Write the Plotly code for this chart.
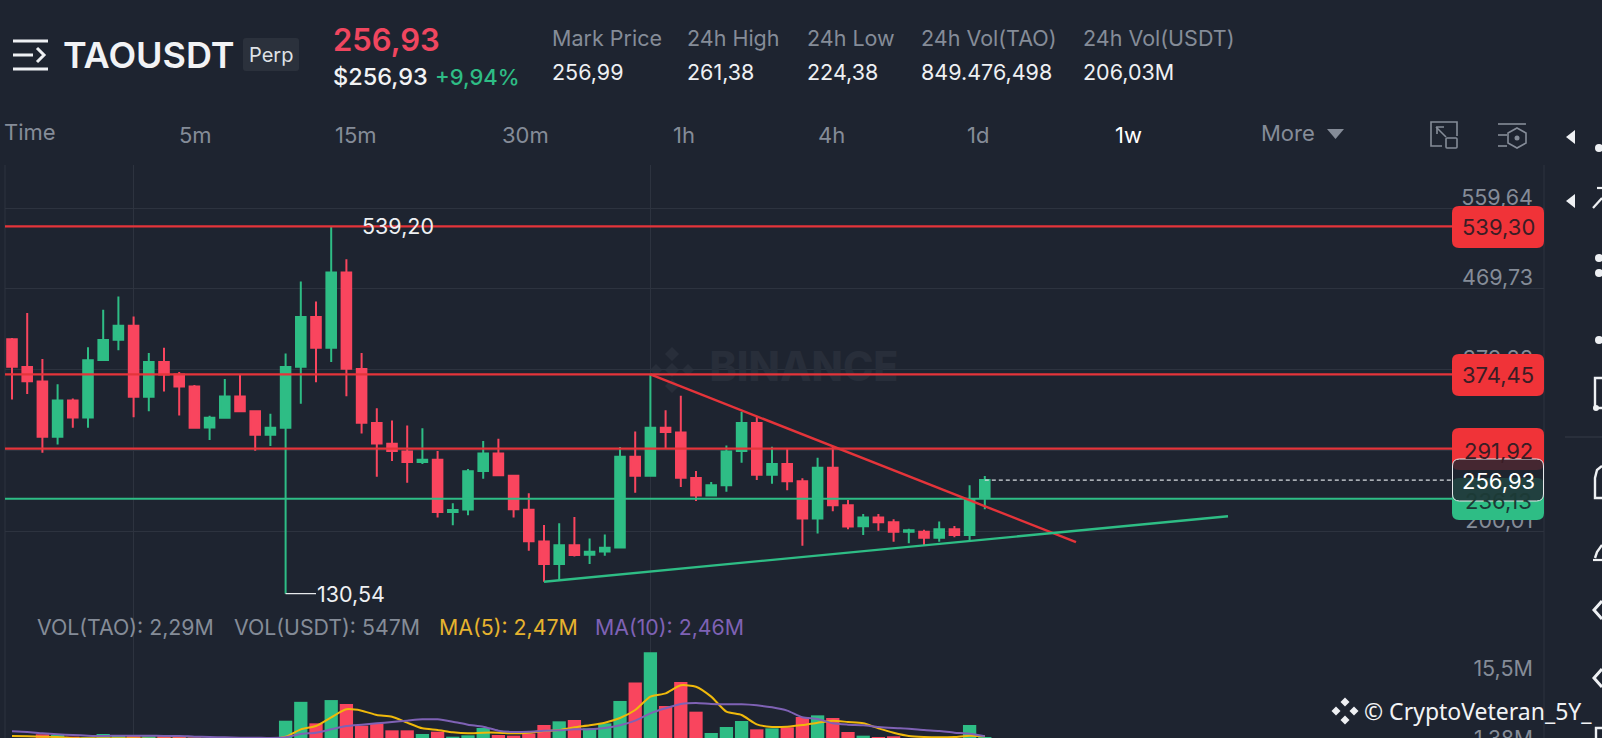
import plotly.graph_objects as go

W, H = 1602, 738

# ---------- DATA ----------
opens = [413.5,382.8,366.5,305.1,345.4,326.5,390.5,413.1,428.7,349.5,388.3,374.3,360.9,315.4,326.2,349.9,333.6,307.3,315.1,383.1,
         438.3,404.2,487.9,380.5,320.3,297.3,288.8,276.9,279.5,221.5,224.1,267.0,286.6,261.8,224.0,188.5,163.4,184.5,173.7,177.4,
         181.9,282.9,261.8,315.1,309.9,259.2,239.6,251.1,289.2,320.3,262.9,274.7,255.5,214.1,270.7,228.8,205.5,215.2,210.0,199.3,
         199.3,192.6,202.2,195.9,237.7]
closes = [383.1,366.9,305.1,345.4,326.5,390.2,412.8,428.7,349.5,388.3,374.3,361.0,315.1,326.2,349.9,333.6,307.3,315.1,382.8,438.3,
          404.2,487.9,380.9,320.6,297.7,289.2,276.9,279.5,221.5,223.7,266.6,286.6,262.2,224.4,188.9,163.4,184.5,173.4,177.1,181.5,
          282.9,261.8,315.1,310.3,259.6,239.6,251.1,288.8,320.3,262.9,274.7,255.5,214.1,270.7,228.8,205.2,215.2,210.0,199.3,201.1,
          192.6,202.2,195.9,235.5,256.93]
highs = [415.0,442.7,391.7,363.5,347.6,404.6,446.4,461.2,439.0,398.3,404.2,377.2,362.8,328.4,369.5,374.3,333.9,330.6,397.6,477.9,
         455.7,539.2,502.7,398.3,336.9,323.2,317.7,314.7,289.2,231.1,269.2,300.3,302.9,262.2,242.2,207.0,208.9,215.9,191.9,196.3,
         293.6,311.0,374.45,334.7,350.6,267.0,254.8,295.5,332.8,327.3,294.0,291.8,258.8,281.8,294.7,234.8,219.2,219.2,213.3,202.6,
         201.5,210.7,205.9,251.1,261.4]
lows = [346.5,352.8,287.3,296.6,315.1,315.1,390.2,401.3,326.9,333.6,355.4,328.8,314.0,301.4,325.1,333.6,289.5,294.7,130.54,341.7,
        365.8,388.3,350.2,308.8,260.7,278.1,254.0,274.7,215.2,206.7,217.8,258.5,261.4,215.2,178.2,143.8,144.9,171.9,163.4,172.6,
        181.1,242.9,261.0,292.5,249.2,233.7,239.6,244.0,276.2,257.0,252.9,245.5,183.7,197.4,222.2,202.2,195.9,200.4,188.2,186.7,
        184.5,188.2,193.3,189.3,224.4]
volumes = [1.9,2.0,2.9,2.74,2.36,2.2,2.97,2.52,2.67,2.44,2.59,2.52,2.2,1.9,1.8,1.8,1.8,1.6,6.0,10.3,
           5.4,10.7,9.8,4.87,5.4,3.81,3.81,2.97,3.5,2.36,2.67,4.34,2.74,2.59,3.12,5.02,5.86,6.16,4.26,5.4,
           10.5,14.7,21.6,9.35,14.8,8.06,3.2,4.57,5.93,4.03,4.26,4.49,6.84,7.22,6.62,3.43,2.59,2.29,2.44,1.6,
           1.6,1.6,1.6,5.02,2.29]
ma5 = [2.52,2.44,2.36,2.29,2.0,2.0,2.0,2.0,2.0,1.9,1.9,1.9,1.9,1.9,1.9,1.9,1.9,1.9,2.36,4.03,
       4.79,6.77,8.59,8.29,7.3,6.92,5.55,4.26,3.88,3.35,3.12,3.27,3.27,3.12,3.27,3.65,3.88,4.49,4.95,5.55,
       6.62,8.44,11.48,12.23,14.06,13.75,11.48,8.06,7.3,5.17,4.57,4.64,5.02,5.55,6.01,5.7,5.4,4.26,3.27,2.52,
       2.29,2.21,2.29,2.59,2.47]
ma10 = [3.58,3.43,3.12,2.9,2.74,2.59,2.52,2.59,2.59,2.59,2.52,2.52,2.36,2.29,2.21,2.14,2.14,2.06,2.21,2.97,
        3.27,4.03,4.79,5.1,5.4,5.7,6.01,6.31,6.31,5.78,5.1,4.64,3.73,3.43,3.5,3.73,3.81,4.03,4.03,4.34,
        4.95,6.01,7.68,8.82,9.8,10.03,9.8,9.73,9.73,9.5,9.05,8.29,6.77,6.39,5.4,5.1,4.95,4.57,4.34,4.19,
        3.88,3.65,3.27,3.05,2.46]

price_ticks = [559.64,469.73,379.82,289.91,200.01,110.10]
price_tick_labels = ["559,64","469,73","379,82","289,91","200,01","110,10"]
vol_ticks = [15.5]
vol_tick_labels = ["15,5M"]

level_red = [539.30,374.45,291.92]
level_red_labels = ["539,30","374,45","291,92"]
level_green = 236.13
level_green_label = "236,13"
last_price = 256.93
last_price_label = "256,93"

red_trend_x = [42,70]
red_trend_y = [374.45,187.8]
green_trend_x = [35,80]
green_trend_y = [143.8,216.6]

low_mark_label = "130,54"
low_mark = 130.54
high_mark_label = "539,20"
high_mark = 539.20

stats_head = ["Mark Price","24h High","24h Low","24h Vol(TAO)","24h Vol(USDT)"]
stats_vals = ["256,99","261,38","224,38","849.476,498","206,03M"]
intervals = ["5m","15m","30m","1h","4h","1d","1w"]

# ---------- STYLE ----------
BG = "#1e2430"
GRID = "#2d333f"
RED = "#f9455e"
GREEN = "#2ebd85"
LINE_RED = "#e5343a"
BOX_RED = "#f03338"
GRAY = "#858c98"
WHITE = "#eef0f3"
WM = "#282e3a"
FONT = "Inter"

X0, X1 = 5, 1544        # plot area pixels
PX0, PXSTEP = 12, 15.2  # candle 0 pixel and candle spacing
Y_TOP, Y_SPLIT = 165, 612
PX_PER_PRICE = 404 / (559.64 - 110.10)

def xi(px):
    return (px - PX0) / PXSTEP
def fx(px):
    return px / W
def fy(py):
    return 1 - py / H

n = len(closes)
idx = list(range(n))
xmin, xmax = xi(X0), xi(X1)
price_range = [110.10, 110.10 + (Y_SPLIT - Y_TOP) / PX_PER_PRICE]
vol_range = [2.06, 30.76]

fig = go.Figure()

# watermark under the candles
fig.add_trace(go.Scatter(x=[xi(804)], y=[110.10 + (Y_SPLIT - 371) / PX_PER_PRICE], mode="text", text=["BINANCE"],
                         textfont=dict(family=FONT, size=41, color=WM, weight=800),
                         textposition="middle center", hoverinfo="skip"))

fig.add_trace(go.Candlestick(x=idx, open=opens, high=highs, low=lows, close=closes,
                             increasing=dict(line=dict(color=GREEN, width=2), fillcolor=GREEN),
                             decreasing=dict(line=dict(color=RED, width=2), fillcolor=RED),
                             whiskerwidth=0, hoverinfo="skip", xaxis="x", yaxis="y"))

for lv in level_red:
    fig.add_trace(go.Scatter(x=[xmin, xi(1452)], y=[lv, lv], mode="lines",
                             line=dict(color=LINE_RED, width=2.2), hoverinfo="skip"))
fig.add_trace(go.Scatter(x=[xmin, xi(1452)], y=[level_green, level_green], mode="lines",
                         line=dict(color=GREEN, width=2.2), hoverinfo="skip"))
fig.add_trace(go.Scatter(x=[n - 1, xi(1452)], y=[last_price, last_price], mode="lines",
                         line=dict(color="#d8dbe0", width=1.2, dash="4px,3px"), hoverinfo="skip"))
fig.add_trace(go.Scatter(x=red_trend_x, y=red_trend_y, mode="lines",
                         line=dict(color=LINE_RED, width=2.4), hoverinfo="skip"))
fig.add_trace(go.Scatter(x=green_trend_x, y=green_trend_y, mode="lines",
                         line=dict(color=GREEN, width=2.4), hoverinfo="skip"))
fig.add_trace(go.Scatter(x=[18, xi(316)], y=[low_mark, low_mark], mode="lines",
                         line=dict(color=WHITE, width=1.2), hoverinfo="skip"))

vol_colors = [GREEN if c >= o else RED for o, c in zip(opens, closes)]
fig.add_trace(go.Bar(x=idx, y=volumes, marker=dict(color=vol_colors, line=dict(width=0)),
                     width=0.875, xaxis="x2", yaxis="y2", hoverinfo="skip"))
fig.add_trace(go.Scatter(x=idx, y=ma5, mode="lines", line=dict(color="#f0b90b", width=2, shape="spline", smoothing=0.6),
                         xaxis="x2", yaxis="y2", hoverinfo="skip"))
fig.add_trace(go.Scatter(x=idx, y=ma10, mode="lines", line=dict(color="#7f62b5", width=2, shape="spline", smoothing=0.6),
                         xaxis="x2", yaxis="y2", hoverinfo="skip"))

# ---------- helpers for chrome ----------
shapes, ann = [], []

def rbox(x0, y0, x1, y1, r, fill, line=None, lw=0):
    p = (f"M {fx(x0+r)} {fy(y0)} L {fx(x1-r)} {fy(y0)} Q {fx(x1)} {fy(y0)} {fx(x1)} {fy(y0+r)} "
         f"L {fx(x1)} {fy(y1-r)} Q {fx(x1)} {fy(y1)} {fx(x1-r)} {fy(y1)} L {fx(x0+r)} {fy(y1)} "
         f"Q {fx(x0)} {fy(y1)} {fx(x0)} {fy(y1-r)} L {fx(x0)} {fy(y0+r)} Q {fx(x0)} {fy(y0)} {fx(x0+r)} {fy(y0)} Z")
    shapes.append(dict(type="path", path=p, xref="paper", yref="paper", fillcolor=fill,
                       line=dict(color=line or fill, width=lw), layer="above"))

def seg(x0, y0, x1, y1, color=WHITE, w=3, layer="above"):
    shapes.append(dict(type="line", x0=fx(x0), y0=fy(y0), x1=fx(x1), y1=fy(y1), xref="paper", yref="paper",
                       line=dict(color=color, width=w), layer=layer))

def poly(pts, color, fill=None, w=1.5, layer="above"):
    p = "M " + " L ".join(f"{fx(a)} {fy(b)}" for a, b in pts) + (" Z" if fill else "")
    shapes.append(dict(type="path", path=p, xref="paper", yref="paper", fillcolor=fill,
                       line=dict(color=color, width=w), layer=layer))

def dot(cx, cy, r, color=WHITE):
    shapes.append(dict(type="circle", x0=fx(cx-r), x1=fx(cx+r), y0=fy(cy-r), y1=fy(cy+r), xref="paper", yref="paper",
                       fillcolor=color, line=dict(width=0), layer="above"))

def txt(px, py, s, size, color, anchor="left", weight=None, family=FONT):
    f = dict(family=family, size=size, color=color)
    if weight:
        f["weight"] = weight
    ann.append(dict(x=fx(px), y=fy(py), xref="paper", yref="paper", text=s, showarrow=False,
                    xanchor=anchor, yanchor="middle", font=f))

# plot frame lines
seg(X0, Y_TOP, X0, H, GRID, 1, "below")
seg(X1, Y_TOP, X1, H, GRID, 1, "below")

# ---------- price boxes ----------
rbox(1452, 206, 1544, 248, 7, BOX_RED)
rbox(1452, 354, 1544, 396, 7, BOX_RED)
rbox(1452, 428, 1544, 470, 7, BOX_RED)
rbox(1452, 478, 1544, 520, 7, GREEN)
rbox(1452.5, 459, 1543.5, 501, 7, "rgba(30,36,48,0.82)", "#e6e8eb", 1)
DARK = "#3a1d25"
for lv_lab, cy in zip(level_red_labels, [227, 375, 451]):
    txt(1498, cy, lv_lab, 22, DARK, "center")
txt(1498, 501, level_green_label, 22, "#1c3a36", "center")
txt(1498, 481, last_price_label, 22, "#ffffff", "center")

# labels on the chart
for label, i, v in [(high_mark_label, xi(360), high_mark), (low_mark_label, xi(315), low_mark)]:
    ann.append(dict(x=i, y=v, xref="x", yref="y", text=label, showarrow=False, xanchor="left", yanchor="middle",
                    font=dict(family=FONT, size=21.5, color=WHITE)))
txt(1535, 738, "1,38M", 21, GRAY, "right")

# volume legend
txt(35, 627, "VOL(TAO): 2,29M", 21.3, GRAY)
txt(232, 627, "VOL(USDT): 547M", 21.3, GRAY)
txt(437, 627, "MA(5): 2,47M", 21.3, "#e6b32e")
txt(593, 627, "MA(10): 2,46M", 21.3, "#7f62b5")

# ---------- header ----------
seg(13, 41, 48, 41)
seg(13, 55, 33, 55)
poly([(37, 48), (44, 55), (37, 62)], WHITE, None, 3)
seg(13, 69, 48, 69)
txt(61, 55, "TAOUSDT", 36, "#f2f3f5", weight=600)
rbox(243, 38, 299, 71, 3, "#2b313c")
txt(271, 55, "Perp", 20, "#dfe2e6", "center")
txt(331, 39, "256,93", 31, "#f0465f", weight=600)
txt(331, 77, "$256,93", 23.5, "#f2f3f5", weight=500)
txt(433, 77, "+9,94%", 22, GREEN, weight=500)
for x, h_, v_ in zip([550, 685, 805, 919, 1081], stats_head, stats_vals):
    txt(x, 38, h_, 21.5, GRAY)
    txt(x, 72, v_, 21.5, "#eef0f3")
txt(2, 132, "Time", 22, GRAY)
for x, s in zip([195, 356, 525, 684, 831, 978, 1128], intervals):
    txt(x, 135, s, 22, "#ffffff" if s == "1w" else GRAY, "center")
txt(1259, 133, "More", 22, GRAY)
poly([(1327, 129), (1344, 129), (1335.5, 139)], GRAY, GRAY, 0)

# toolbar icons
for pts in [[(1442, 146), (1431, 146), (1431, 122), (1457, 122), (1457, 136)],
            [(1436, 127), (1446, 137)], [(1437, 134), (1437, 127), (1444, 127)]]:
    poly(pts, GRAY, None, 1.6)
rbox(1446, 138, 1457, 148, 1, BG, GRAY, 1.6)
seg(1498, 124, 1526, 124, GRAY, 1.6)
seg(1498, 135, 1507, 135, GRAY, 1.6)
seg(1498, 146, 1507, 146, GRAY, 1.6)
poly([(1517, 128), (1526, 133), (1526, 143), (1517, 148), (1508, 143), (1508, 133)], GRAY, BG, 1.6)
dot(1517, 138, 2.5, GRAY)

# right-hand cut-off sidebar
poly([(1575, 130), (1566, 137), (1575, 144)], WHITE, WHITE, 0)
poly([(1575, 194), (1566, 201), (1575, 208)], WHITE, WHITE, 0)
dot(1599, 148, 4); dot(1599, 258, 4); dot(1599, 273, 4); dot(1599, 340, 4)
seg(1593, 208, 1602, 198, WHITE, 2.2)
seg(1597, 188, 1602, 188, WHITE, 2.2)
poly([(1602, 378), (1595, 378), (1595, 408), (1602, 408)], WHITE, None, 2.4)
dot(1596, 408, 3)
seg(1565, 437, 1602, 437, "#343a46", 1.2)
poly([(1602, 466), (1597, 470), (1595, 478), (1595, 498), (1602, 498)], WHITE, None, 2.4)
poly([(1602, 545), (1597, 552), (1595, 558)], WHITE, None, 2.4)
seg(1593, 560, 1602, 560, WHITE, 2.2)
poly([(1602, 601), (1594, 610), (1602, 619)], WHITE, None, 3)
poly([(1602, 669), (1594, 678), (1602, 687)], WHITE, None, 3)
poly([(1602, 728), (1596, 728), (1596, 738)], WHITE, None, 2.4)

# watermark diamonds (BINANCE logo) under the candles
for cx, cy, r in [(672, 370, 7), (672, 354, 7), (672, 386, 7), (656, 370, 6), (688, 370, 6)]:
    poly([(cx, cy - r), (cx + r, cy), (cx, cy + r), (cx - r, cy)], WM, WM, 0, "below")

# author tag
for cx, cy, r in [(1345, 702, 4.5), (1345, 720, 4.5), (1336, 711, 4.5), (1354, 711, 4.5)]:
    poly([(cx, cy - r), (cx + r, cy), (cx, cy + r), (cx - r, cy)], WHITE, WHITE, 0)
txt(1362, 711, "© CryptoVeteran_5Y_", 23, "#f2f3f5", family="Noto Sans")

v_lines = [8, 42]
fig.update_layout(
    width=W, height=H, margin=dict(l=0, r=0, t=0, b=0), autosize=False,
    paper_bgcolor=BG, plot_bgcolor=BG, showlegend=False, bargap=0.12, boxgap=0.1, hovermode=False,
    font=dict(family=FONT, color=GRAY),
    xaxis=dict(domain=[fx(X0), fx(X1)], range=[xmin, xmax], anchor="y", rangeslider=dict(visible=False),
               tickvals=v_lines, showticklabels=False, showgrid=True, gridcolor=GRID, gridwidth=1,
               zeroline=False, ticks=""),
    xaxis2=dict(domain=[fx(X0), fx(X1)], range=[xmin, xmax], anchor="y2", matches="x",
                tickvals=v_lines, showticklabels=False, showgrid=True, gridcolor=GRID, gridwidth=1,
                zeroline=False, ticks=""),
    yaxis=dict(domain=[fy(Y_SPLIT), fy(Y_TOP)], range=price_range, anchor="x", side="right",
               tickmode="array", tickvals=price_ticks, ticktext=price_tick_labels,
               ticklabelposition="inside", ticklabelstandoff=8, ticklabelshift=-11,
               tickfont=dict(family=FONT, size=21.5, color=GRAY),
               showgrid=True, gridcolor=GRID, gridwidth=1, zeroline=False, ticks=""),
    yaxis2=dict(domain=[0, fy(Y_SPLIT)], range=vol_range, anchor="x2", side="right",
                tickmode="array", tickvals=vol_ticks, ticktext=vol_tick_labels,
                ticklabelposition="inside", ticklabelstandoff=8, ticklabelshift=-11,
                tickfont=dict(family=FONT, size=21.5, color=GRAY),
                showgrid=False, zeroline=False, ticks=""),
    shapes=shapes, annotations=ann,
)

fig.write_html("out.html", config=dict(displayModeBar=False, responsive=False),
               post_script="document.body.style.margin='0';document.body.style.overflow='hidden';document.body.style.background='%s';" % BG)
